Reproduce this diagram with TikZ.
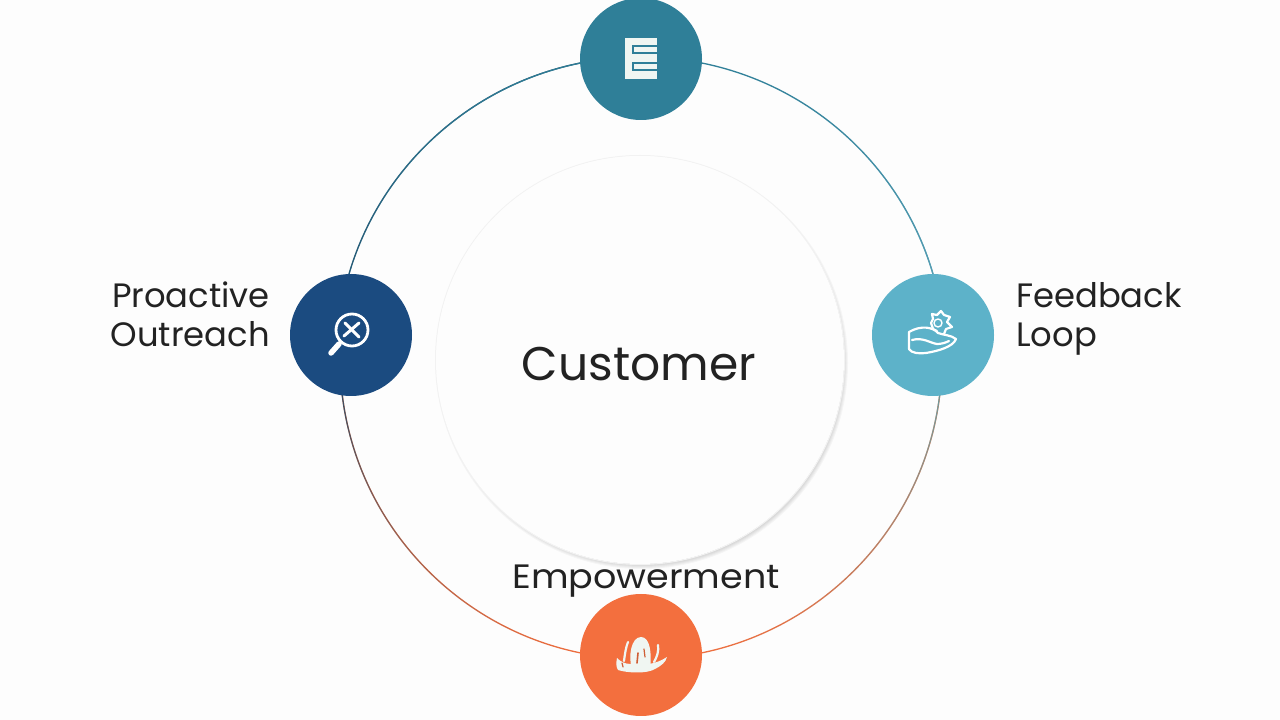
\documentclass[tikz,border=0pt]{standalone}
\usepackage{fontspec}
\setmainfont{Poppins}
\usetikzlibrary{backgrounds,fadings}
\definecolor{pagecol}{HTML}{FDFDFD}
\definecolor{topcol}{HTML}{2F7F98}
\definecolor{leftcol}{HTML}{1B4B80}
\definecolor{rightcol}{HTML}{5DB2C9}
\definecolor{bottomcol}{HTML}{F36F3E}
\definecolor{ringleft}{HTML}{1F4A68}
\definecolor{ringgrey}{HTML}{5F9FA8}
\definecolor{iconcol}{HTML}{F0F6F2}
\definecolor{inkcol}{HTML}{222222}
\tikzset{
  stage/.style={circle, fill=#1, minimum size=122pt, inner sep=0pt},
  label/.style={font=\fontsize{33.8}{39}\selectfont, text=inkcol, inner sep=0pt},
  ring/.style={line width=1.3pt},
  upperarc/.style={x radius=304, y radius=301},
  icon/.style={draw=white, line cap=round, line join=round, line width=2.2pt}
}
\begin{document}
\begin{tikzpicture}[x=1pt,y=1pt]
\useasboundingbox (0,0) rectangle (1280,720);
\node[circle, fill=pagecol, minimum size=408pt, inner sep=0pt] (hub) at (640,360){};
\node[font=\fontsize{47.2}{50}\selectfont, text=inkcol, inner sep=0pt, anchor=base] (hubtext) at (639,339){Customer};
\node[stage=topcol] (top) at (641,661){};
\node[stage=leftcol] (left) at (351,385){};
\node[stage=rightcol] (right) at (933,385){};
\node[stage=bottomcol] (bottom) at (641,65){};
\coordinate (ringtop) at (641,663);
\coordinate (ringleft) at (340,362);
\coordinate (ringright) at (942,362);
\begin{pgfonlayer}{background}
\fill[pagecol] (0,0) rectangle (1280,720);
% soft shadow under the centre disc
\foreach \r in {1,...,8}{
  \fill[black, opacity=0.03] (642,357) circle ({198+\r});
}
\draw[black!5, line width=1pt] (hub.center) circle (204.5);
\draw[ring, ringleft] (ringtop) arc[start angle=90, end angle=180, upperarc];
\draw[ring, topcol, path fading=south] (ringtop) arc[start angle=90, end angle=180, upperarc];
\draw[ring, topcol] (ringtop) arc[start angle=90, end angle=0, upperarc];
\draw[ring, rightcol!85!gray, path fading=north] (ringtop) arc[start angle=90, end angle=0, upperarc];
\draw[ring, bottomcol] (ringleft) arc[start angle=180, end angle=270, radius=301];
\draw[ring, ringleft, path fading=south] (ringleft) arc[start angle=180, end angle=270, radius=301];
\draw[ring, bottomcol] (ringright) arc[start angle=0, end angle=-90, radius=301];
\draw[ring, ringgrey, path fading=south] (ringright) arc[start angle=0, end angle=-90, radius=301];
\end{pgfonlayer}
\node[label, anchor=base east, align=right] (proactive) at (270,412){Proactive};
\node[label, anchor=base east, align=right] (outreach) at (270,373){Outreach};
\node[label, anchor=base west, align=left] (feedback) at (1016,412){Feedback};
\node[label, anchor=base west, align=left] (loop) at (1016,373){Loop};
\node[label, anchor=base, xscale=1.08, transform shape] (empowerment) at (646,131){Empowerment};
% document icon
\begin{scope}[shift={(top.center)}]
\fill[iconcol] (-16,21) rectangle (16,-20);
\fill[topcol] (-9,14) rectangle (16,5);
\fill[topcol] (-9,-3) rectangle (16,-12);
\fill[iconcol] (-7,12) rectangle (16,7);
\fill[iconcol] (-7,-5) rectangle (16,-10);
\end{scope}
% magnifier icon
\begin{scope}[shift={(left.center)}]
\draw[icon, line width=2.8pt] (1,5) circle (16);
\draw[icon, line width=5.5pt] (-12,-9) -- (-20,-18);
\draw[icon, line width=3pt] (-6,12) -- (8,-2);
\draw[icon, line width=3pt] (8,12) -- (-7,-1);
\end{scope}
% hand and gear icon
\begin{scope}[shift={(right.center)}]
\draw[icon] (-24,3) .. controls (-12,10) and (0,8) .. (5,2) .. controls (10,0) and (18,0) .. (23,-4) .. controls (20,-12) and (5,-16) .. (-7,-18) .. controls (-14,-19) and (-22,-18) .. (-24,-14) -- cycle;
\draw[icon] (-21,-5) .. controls (-10,-2) and (-3,-8) .. (4,-9) .. controls (8,-9) and (12,-8) .. (16,-6);
\draw[icon] (4,4) -- (0,6) -- (-2,12) -- (0,16) -- (-1,21) -- (4,20) -- (8,24) -- (11,20) -- (17,18) -- (14,13) -- (19,8) -- (13,6) -- (11,1);
\draw[icon, line width=1.4pt] (5,12) circle (4);
\end{scope}
% hand shaped icon
\begin{scope}[shift={(bottom.center)}]
\fill[iconcol] (-9,-14) .. controls (-13,-2) and (-10,18) .. (0,18) .. controls (9,18) and (11,2) .. (9,-14) -- cycle;
\fill[iconcol] (-24,-3) .. controls (-25,-8) and (-25,-12) .. (-23,-15) .. controls (-14,-18) and (6,-19) .. (14,-14) .. controls (20,-11) and (25,-7) .. (26,-2) .. controls (20,-6) and (14,-8) .. (8,-9) -- (-10,-9) .. controls (-16,-9) and (-20,-7) .. (-24,-3) -- cycle;
\draw[icon, draw=iconcol] (-17,-6) .. controls (-16,2) and (-15,8) .. (-13,13);
\draw[icon, draw=iconcol] (13,-7) .. controls (16,-2) and (18,4) .. (17,10);
\draw[line width=1.6pt, bottomcol!85!black, line cap=round] (-4,-8) -- (-3,2);
\draw[line width=1.2pt, bottomcol!85!black, line cap=round] (4,-2) -- (3,6);
\draw[line width=1.2pt, bottomcol!85!black, line cap=round] (-18,-12) -- (-19,-8);
\end{scope}
\end{tikzpicture}
\end{document}
